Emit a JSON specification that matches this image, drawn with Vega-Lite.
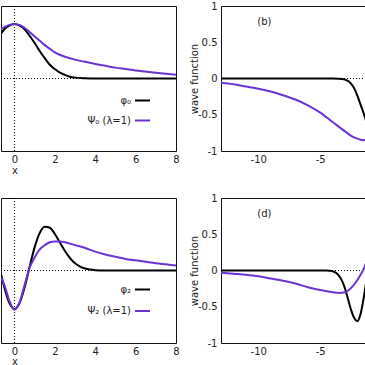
{
  "$schema": "https://vega.github.io/schema/vega-lite/v6.json",
  "padding": {"left": 0, "top": 0, "right": 0, "bottom": 0},
  "background": "white",
  "config": {
    "view": {"stroke": "#111", "strokeWidth": 1},
    "font": "DejaVu Sans",
    "axis": {"domain": false, "ticks": false, "grid": false, "labelFont": "DejaVu Sans", "labelFontSize": 10, "labelColor": "#222", "titleFont": "DejaVu Sans", "titleFontSize": 10, "titleFontWeight": "normal", "titleColor": "#222", "labelFlush": false, "labelOverlap": false, "labelExpr": "replace(format(datum.value, '~g'), '−', '-')"},
    "axisX": {"labelPadding": 3.5},
    "axisY": {"labelPadding": 4},
    "legend": {"labelFont": "DejaVu Sans", "labelFontSize": 10, "labelColor": "#222"}
  },
  "datasets": {
    "tl": [
      {"s": "φ₀", "x": -0.667, "y": 0.62}, {"s": "φ₀", "x": -0.5, "y": 0.68}, {"s": "φ₀", "x": -0.25, "y": 0.73}, {"s": "φ₀", "x": 0, "y": 0.751}, {"s": "φ₀", "x": 0.25, "y": 0.73}, {"s": "φ₀", "x": 0.5, "y": 0.68}, {"s": "φ₀", "x": 0.75, "y": 0.59}, {"s": "φ₀", "x": 1, "y": 0.49}, {"s": "φ₀", "x": 1.25, "y": 0.38}, {"s": "φ₀", "x": 1.5, "y": 0.28}, {"s": "φ₀", "x": 1.75, "y": 0.19}, {"s": "φ₀", "x": 2, "y": 0.13}, {"s": "φ₀", "x": 2.25, "y": 0.08}, {"s": "φ₀", "x": 2.5, "y": 0.05}, {"s": "φ₀", "x": 2.75, "y": 0.025}, {"s": "φ₀", "x": 3, "y": 0.012}, {"s": "φ₀", "x": 3.5, "y": 0.003}, {"s": "φ₀", "x": 4, "y": 0}, {"s": "φ₀", "x": 5, "y": 0}, {"s": "φ₀", "x": 6, "y": 0}, {"s": "φ₀", "x": 7, "y": 0}, {"s": "φ₀", "x": 8, "y": 0},
      {"s": "Ψ₀ (λ=1)", "x": -0.667, "y": 0.68}, {"s": "Ψ₀ (λ=1)", "x": -0.5, "y": 0.71}, {"s": "Ψ₀ (λ=1)", "x": -0.25, "y": 0.74}, {"s": "Ψ₀ (λ=1)", "x": 0, "y": 0.75}, {"s": "Ψ₀ (λ=1)", "x": 0.25, "y": 0.74}, {"s": "Ψ₀ (λ=1)", "x": 0.5, "y": 0.7}, {"s": "Ψ₀ (λ=1)", "x": 0.75, "y": 0.64}, {"s": "Ψ₀ (λ=1)", "x": 1, "y": 0.58}, {"s": "Ψ₀ (λ=1)", "x": 1.25, "y": 0.52}, {"s": "Ψ₀ (λ=1)", "x": 1.5, "y": 0.46}, {"s": "Ψ₀ (λ=1)", "x": 1.75, "y": 0.41}, {"s": "Ψ₀ (λ=1)", "x": 2, "y": 0.36}, {"s": "Ψ₀ (λ=1)", "x": 2.5, "y": 0.3}, {"s": "Ψ₀ (λ=1)", "x": 3, "y": 0.26}, {"s": "Ψ₀ (λ=1)", "x": 3.5, "y": 0.23}, {"s": "Ψ₀ (λ=1)", "x": 4, "y": 0.2}, {"s": "Ψ₀ (λ=1)", "x": 4.5, "y": 0.175}, {"s": "Ψ₀ (λ=1)", "x": 5, "y": 0.15}, {"s": "Ψ₀ (λ=1)", "x": 5.5, "y": 0.13}, {"s": "Ψ₀ (λ=1)", "x": 6, "y": 0.11}, {"s": "Ψ₀ (λ=1)", "x": 6.5, "y": 0.095}, {"s": "Ψ₀ (λ=1)", "x": 7, "y": 0.08}, {"s": "Ψ₀ (λ=1)", "x": 7.5, "y": 0.065}, {"s": "Ψ₀ (λ=1)", "x": 8, "y": 0.05}
    ],
    "tr": [
      {"s": "φ₁", "x": -13, "y": 0}, {"s": "φ₁", "x": -8, "y": 0}, {"s": "φ₁", "x": -4, "y": 0}, {"s": "φ₁", "x": -3.5, "y": -0.002}, {"s": "φ₁", "x": -3.25, "y": -0.006}, {"s": "φ₁", "x": -3, "y": -0.015}, {"s": "φ₁", "x": -2.75, "y": -0.035}, {"s": "φ₁", "x": -2.5, "y": -0.075}, {"s": "φ₁", "x": -2.25, "y": -0.14}, {"s": "φ₁", "x": -2, "y": -0.24}, {"s": "φ₁", "x": -1.75, "y": -0.36}, {"s": "φ₁", "x": -1.5, "y": -0.48}, {"s": "φ₁", "x": -1.31, "y": -0.58},
      {"s": "Ψ₁ (λ=1)", "x": -13, "y": -0.06}, {"s": "Ψ₁ (λ=1)", "x": -12, "y": -0.08}, {"s": "Ψ₁ (λ=1)", "x": -11, "y": -0.11}, {"s": "Ψ₁ (λ=1)", "x": -10, "y": -0.14}, {"s": "Ψ₁ (λ=1)", "x": -9, "y": -0.18}, {"s": "Ψ₁ (λ=1)", "x": -8, "y": -0.23}, {"s": "Ψ₁ (λ=1)", "x": -7, "y": -0.29}, {"s": "Ψ₁ (λ=1)", "x": -6, "y": -0.37}, {"s": "Ψ₁ (λ=1)", "x": -5, "y": -0.47}, {"s": "Ψ₁ (λ=1)", "x": -4, "y": -0.6}, {"s": "Ψ₁ (λ=1)", "x": -3, "y": -0.73}, {"s": "Ψ₁ (λ=1)", "x": -2.5, "y": -0.79}, {"s": "Ψ₁ (λ=1)", "x": -2, "y": -0.83}, {"s": "Ψ₁ (λ=1)", "x": -1.75, "y": -0.845}, {"s": "Ψ₁ (λ=1)", "x": -1.5, "y": -0.85}, {"s": "Ψ₁ (λ=1)", "x": -1.31, "y": -0.847}
    ],
    "bl": [
      {"s": "φ₂", "x": -0.667, "y": -0.047}, {"s": "φ₂", "x": -0.5, "y": -0.234}, {"s": "φ₂", "x": -0.25, "y": -0.45}, {"s": "φ₂", "x": 0, "y": -0.531}, {"s": "φ₂", "x": 0.25, "y": -0.45}, {"s": "φ₂", "x": 0.5, "y": -0.234}, {"s": "φ₂", "x": 0.75, "y": 0.05}, {"s": "φ₂", "x": 1, "y": 0.322}, {"s": "φ₂", "x": 1.25, "y": 0.517}, {"s": "φ₂", "x": 1.5, "y": 0.603}, {"s": "φ₂", "x": 1.75, "y": 0.589}, {"s": "φ₂", "x": 2, "y": 0.503}, {"s": "φ₂", "x": 2.25, "y": 0.386}, {"s": "φ₂", "x": 2.5, "y": 0.268}, {"s": "φ₂", "x": 2.75, "y": 0.171}, {"s": "φ₂", "x": 3, "y": 0.1}, {"s": "φ₂", "x": 3.25, "y": 0.054}, {"s": "φ₂", "x": 3.5, "y": 0.027}, {"s": "φ₂", "x": 3.75, "y": 0.013}, {"s": "φ₂", "x": 4, "y": 0.005}, {"s": "φ₂", "x": 4.5, "y": 0}, {"s": "φ₂", "x": 6, "y": 0}, {"s": "φ₂", "x": 8, "y": 0},
      {"s": "Ψ₂ (λ=1)", "x": -0.667, "y": -0.1}, {"s": "Ψ₂ (λ=1)", "x": -0.5, "y": -0.2}, {"s": "Ψ₂ (λ=1)", "x": -0.25, "y": -0.42}, {"s": "Ψ₂ (λ=1)", "x": 0, "y": -0.54}, {"s": "Ψ₂ (λ=1)", "x": 0.25, "y": -0.44}, {"s": "Ψ₂ (λ=1)", "x": 0.5, "y": -0.2}, {"s": "Ψ₂ (λ=1)", "x": 0.75, "y": 0.04}, {"s": "Ψ₂ (λ=1)", "x": 1, "y": 0.18}, {"s": "Ψ₂ (λ=1)", "x": 1.25, "y": 0.29}, {"s": "Ψ₂ (λ=1)", "x": 1.5, "y": 0.35}, {"s": "Ψ₂ (λ=1)", "x": 1.75, "y": 0.39}, {"s": "Ψ₂ (λ=1)", "x": 2, "y": 0.4}, {"s": "Ψ₂ (λ=1)", "x": 2.25, "y": 0.4}, {"s": "Ψ₂ (λ=1)", "x": 2.5, "y": 0.39}, {"s": "Ψ₂ (λ=1)", "x": 3, "y": 0.35}, {"s": "Ψ₂ (λ=1)", "x": 3.5, "y": 0.31}, {"s": "Ψ₂ (λ=1)", "x": 4, "y": 0.26}, {"s": "Ψ₂ (λ=1)", "x": 4.5, "y": 0.22}, {"s": "Ψ₂ (λ=1)", "x": 5, "y": 0.19}, {"s": "Ψ₂ (λ=1)", "x": 5.5, "y": 0.16}, {"s": "Ψ₂ (λ=1)", "x": 6, "y": 0.14}, {"s": "Ψ₂ (λ=1)", "x": 6.5, "y": 0.12}, {"s": "Ψ₂ (λ=1)", "x": 7, "y": 0.1}, {"s": "Ψ₂ (λ=1)", "x": 7.5, "y": 0.085}, {"s": "Ψ₂ (λ=1)", "x": 8, "y": 0.07}
    ],
    "br": [
      {"s": "φ₃", "x": -13, "y": 0}, {"s": "φ₃", "x": -8, "y": 0}, {"s": "φ₃", "x": -4.5, "y": 0}, {"s": "φ₃", "x": -4.25, "y": -0.003}, {"s": "φ₃", "x": -4, "y": -0.01}, {"s": "φ₃", "x": -3.75, "y": -0.03}, {"s": "φ₃", "x": -3.5, "y": -0.07}, {"s": "φ₃", "x": -3.25, "y": -0.14}, {"s": "φ₃", "x": -3, "y": -0.25}, {"s": "φ₃", "x": -2.75, "y": -0.4}, {"s": "φ₃", "x": -2.5, "y": -0.55}, {"s": "φ₃", "x": -2.25, "y": -0.66}, {"s": "φ₃", "x": -2, "y": -0.7}, {"s": "φ₃", "x": -1.75, "y": -0.6}, {"s": "φ₃", "x": -1.5, "y": -0.38}, {"s": "φ₃", "x": -1.31, "y": -0.18},
      {"s": "Ψ₃ (λ=1)", "x": -13, "y": -0.03}, {"s": "Ψ₃ (λ=1)", "x": -12, "y": -0.045}, {"s": "Ψ₃ (λ=1)", "x": -11, "y": -0.06}, {"s": "Ψ₃ (λ=1)", "x": -10, "y": -0.08}, {"s": "Ψ₃ (λ=1)", "x": -9, "y": -0.11}, {"s": "Ψ₃ (λ=1)", "x": -8, "y": -0.14}, {"s": "Ψ₃ (λ=1)", "x": -7, "y": -0.18}, {"s": "Ψ₃ (λ=1)", "x": -6, "y": -0.23}, {"s": "Ψ₃ (λ=1)", "x": -5, "y": -0.27}, {"s": "Ψ₃ (λ=1)", "x": -4, "y": -0.3}, {"s": "Ψ₃ (λ=1)", "x": -3.5, "y": -0.31}, {"s": "Ψ₃ (λ=1)", "x": -3, "y": -0.3}, {"s": "Ψ₃ (λ=1)", "x": -2.5, "y": -0.24}, {"s": "Ψ₃ (λ=1)", "x": -2, "y": -0.13}, {"s": "Ψ₃ (λ=1)", "x": -1.75, "y": -0.06}, {"s": "Ψ₃ (λ=1)", "x": -1.5, "y": 0.02}, {"s": "Ψ₃ (λ=1)", "x": -1.31, "y": 0.1}
    ]
  },
  "columns": 2,
  "spacing": {"row": 16, "column": 8},
  "resolve": {"scale": {"color": "independent"}},
  "concat": [
    {
      "width": 175, "height": 145,
      "layer": [
        {"data": {"values": [{}]}, "mark": {"type": "rule", "strokeDash": [1, 2], "color": "#000", "strokeWidth": 1},
         "encoding": {"y": {"datum": 0, "type": "quantitative", "scale": {"domain": [-1, 1], "nice": false}, "axis": null}}},
        {"data": {"values": [{}]}, "mark": {"type": "rule", "strokeDash": [1, 2], "color": "#000", "strokeWidth": 1},
         "encoding": {"x": {"datum": 0, "type": "quantitative", "scale": {"domain": [-0.667, 8], "nice": false, "zero": false}, "axis": null}}},
        {"data": {"name": "tl"}, "mark": {"type": "line", "clip": true, "strokeWidth": 2, "interpolate": "monotone"},
         "encoding": {
           "x": {"field": "x", "type": "quantitative", "scale": {"domain": [-0.667, 8], "nice": false, "zero": false}, "axis": {"orient": "bottom", "values": [0, 2, 4, 6, 8], "title": "x", "titleX": 13.5, "titlePadding": 1}},
           "y": {"field": "y", "type": "quantitative", "scale": {"domain": [-1, 1], "nice": false}, "axis": null},
           "color": {"field": "s", "type": "nominal", "scale": {"domain": ["φ₀", "Ψ₀ (λ=1)"], "range": ["#000000", "#6a33d6"]},
             "legend": {"orient": "none", "legendX": 133, "legendY": 86, "title": null, "labelAlign": "right", "labelOffset": -20, "symbolType": "stroke", "symbolSize": 225, "symbolStrokeWidth": 2, "rowPadding": 6, "padding": 0}}
         }}
      ],
      "resolve": {"axis": {"x": "independent", "y": "independent"}}
    },
    {
      "width": 145, "height": 145,
      "layer": [
        {"data": {"values": [{}]}, "mark": {"type": "rule", "strokeDash": [1, 2], "color": "#000", "strokeWidth": 1},
         "encoding": {"y": {"datum": 0, "type": "quantitative", "scale": {"domain": [-1, 1], "nice": false}, "axis": null}}},
        {"data": {"name": "tr"}, "mark": {"type": "line", "clip": true, "strokeWidth": 2, "interpolate": "monotone"},
         "encoding": {
           "x": {"field": "x", "type": "quantitative", "scale": {"domain": [-13, -1.31], "nice": false, "zero": false}, "axis": {"orient": "bottom", "values": [-10, -5], "title": null}},
           "y": {"field": "y", "type": "quantitative", "scale": {"domain": [-1, 1], "nice": false}, "axis": {"orient": "left", "values": [-1, -0.5, 0, 0.5, 1], "title": "wave function", "titleX": -24, "titleBaseline": "alphabetic"}},
           "color": {"field": "s", "type": "nominal", "scale": {"domain": ["φ₁", "Ψ₁ (λ=1)"], "range": ["#000000", "#6a33d6"]}, "legend": null}
         }},
        {"data": {"values": [{}]}, "mark": {"type": "text", "fontSize": 10, "font": "DejaVu Sans", "color": "#222"},
         "encoding": {
           "x": {"datum": -9.5, "type": "quantitative", "scale": {"domain": [-13, -1.31], "nice": false, "zero": false}, "axis": null},
           "y": {"datum": 0.78, "type": "quantitative", "scale": {"domain": [-1, 1], "nice": false}, "axis": null},
           "text": {"value": "(b)"}
         }}
      ],
      "resolve": {"axis": {"x": "independent", "y": "independent"}}
    },
    {
      "width": 175, "height": 145,
      "layer": [
        {"data": {"values": [{}]}, "mark": {"type": "rule", "strokeDash": [1, 2], "color": "#000", "strokeWidth": 1},
         "encoding": {"y": {"datum": 0, "type": "quantitative", "scale": {"domain": [-1, 1], "nice": false}, "axis": null}}},
        {"data": {"values": [{}]}, "mark": {"type": "rule", "strokeDash": [1, 2], "color": "#000", "strokeWidth": 1},
         "encoding": {"x": {"datum": 0, "type": "quantitative", "scale": {"domain": [-0.667, 8], "nice": false, "zero": false}, "axis": null}}},
        {"data": {"name": "bl"}, "mark": {"type": "line", "clip": true, "strokeWidth": 2, "interpolate": "monotone"},
         "encoding": {
           "x": {"field": "x", "type": "quantitative", "scale": {"domain": [-0.667, 8], "nice": false, "zero": false}, "axis": {"orient": "bottom", "values": [0, 2, 4, 6, 8], "title": "x", "titleX": 13.5, "titlePadding": 0}},
           "y": {"field": "y", "type": "quantitative", "scale": {"domain": [-1, 1], "nice": false}, "axis": null},
           "color": {"field": "s", "type": "nominal", "scale": {"domain": ["φ₂", "Ψ₂ (λ=1)"], "range": ["#000000", "#6a33d6"]},
             "legend": {"orient": "none", "legendX": 133, "legendY": 83, "title": null, "labelAlign": "right", "labelOffset": -20, "symbolType": "stroke", "symbolSize": 225, "symbolStrokeWidth": 2, "rowPadding": 7.5, "padding": 0}}
         }}
      ],
      "resolve": {"axis": {"x": "independent", "y": "independent"}}
    },
    {
      "width": 145, "height": 145,
      "layer": [
        {"data": {"values": [{}]}, "mark": {"type": "rule", "strokeDash": [1, 2], "color": "#000", "strokeWidth": 1},
         "encoding": {"y": {"datum": 0, "type": "quantitative", "scale": {"domain": [-1, 1], "nice": false}, "axis": null}}},
        {"data": {"name": "br"}, "mark": {"type": "line", "clip": true, "strokeWidth": 2, "interpolate": "monotone"},
         "encoding": {
           "x": {"field": "x", "type": "quantitative", "scale": {"domain": [-13, -1.31], "nice": false, "zero": false}, "axis": {"orient": "bottom", "values": [-10, -5], "title": null}},
           "y": {"field": "y", "type": "quantitative", "scale": {"domain": [-1, 1], "nice": false}, "axis": {"orient": "left", "values": [-1, -0.5, 0, 0.5, 1], "title": "wave function", "titleX": -24, "titleBaseline": "alphabetic"}},
           "color": {"field": "s", "type": "nominal", "scale": {"domain": ["φ₃", "Ψ₃ (λ=1)"], "range": ["#000000", "#6a33d6"]}, "legend": null}
         }},
        {"data": {"values": [{}]}, "mark": {"type": "text", "fontSize": 10, "font": "DejaVu Sans", "color": "#222"},
         "encoding": {
           "x": {"datum": -9.5, "type": "quantitative", "scale": {"domain": [-13, -1.31], "nice": false, "zero": false}, "axis": null},
           "y": {"datum": 0.78, "type": "quantitative", "scale": {"domain": [-1, 1], "nice": false}, "axis": null},
           "text": {"value": "(d)"}
         }}
      ],
      "resolve": {"axis": {"x": "independent", "y": "independent"}}
    }
  ]
}
